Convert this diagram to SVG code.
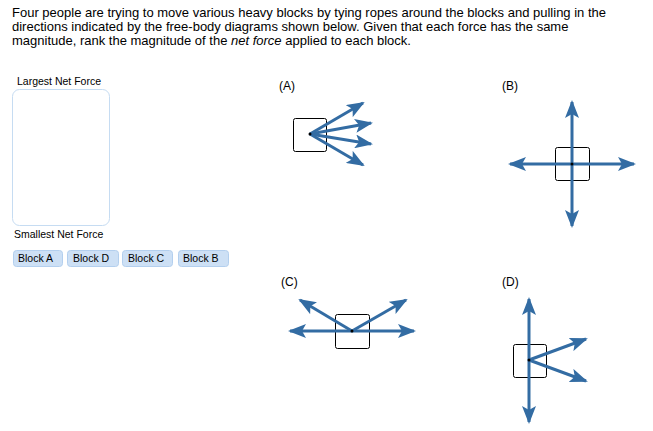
<svg xmlns="http://www.w3.org/2000/svg" width="653" height="431" viewBox="0 0 653 431">
<style>
text{font-family:"Liberation Sans",Arial,sans-serif;fill:#000}
.q{font-size:13px}
.s{font-size:10.5px}
.lb{font-size:12px}
.box{fill:#fff;stroke:#000;stroke-width:1}
.f{stroke:#336ca3;stroke-width:3;fill:none;marker-end:url(#ah)}
.btn{fill:#cde0f5;stroke:#b3cfee}
</style>
<defs>
<marker id="ah" markerUnits="userSpaceOnUse" markerWidth="18" markerHeight="14" refX="16" refY="7" orient="auto" viewBox="0 0 18 14">
<path d="M0,0 L18,7 L0,14 L4,7 Z" fill="#336ca3"/>
</marker>
</defs>
<rect width="653" height="431" fill="#fff"/>
<text class="q" x="12" y="17">Four people are trying to move various heavy blocks by tying ropes around the blocks and pulling in the</text>
<text class="q" x="12" y="31">directions indicated by the free-body diagrams shown below. Given that each force has the same</text>
<text class="q" x="12" y="45">magnitude, rank the magnitude of the <tspan font-style="italic">net force</tspan> applied to each block.</text>
<g id="ranking">
<text class="s" x="17" y="85">Largest Net Force</text>
<rect x="12.5" y="89.5" width="97" height="136" rx="7" fill="#fff" stroke="#c6dcf2"/>
<text class="s" x="14" y="238">Smallest Net Force</text>
<rect class="btn" x="13.5" y="250.5" width="49" height="16" rx="3"/><text class="s" x="18" y="262">Block A</text>
<rect class="btn" x="67.5" y="250.5" width="51" height="16" rx="3"/><text class="s" x="73" y="262">Block D</text>
<rect class="btn" x="122.5" y="250.5" width="50" height="16" rx="3"/><text class="s" x="128" y="262">Block C</text>
<rect class="btn" x="178.5" y="250.5" width="50" height="16" rx="3"/><text class="s" x="183" y="262">Block B</text>
</g>
<g id="A">
<text class="lb" x="279" y="90">(A)</text>
<rect class="box" x="293.5" y="118.5" width="33" height="33" rx="2"/>
</g>
<g id="B">
<text class="lb" x="502" y="90">(B)</text>
<rect class="box" x="555.5" y="147.5" width="34" height="33" rx="2"/>
</g>
<g id="C">
<text class="lb" x="281" y="286">(C)</text>
<rect class="box" x="335.5" y="314.5" width="34" height="34" rx="2"/>
</g>
<g id="D">
<text class="lb" x="502" y="286">(D)</text>
<rect class="box" x="513.5" y="344.5" width="33" height="33" rx="2"/>
</g>
<g id="connectors">
<line class="f" x1="310" y1="134" x2="363" y2="103"/>
<line class="f" x1="310" y1="134" x2="371" y2="123"/>
<line class="f" x1="310" y1="134" x2="371" y2="144"/>
<line class="f" x1="310" y1="134" x2="363" y2="165"/>
<line class="f" x1="572" y1="164" x2="572" y2="102"/>
<line class="f" x1="572" y1="164" x2="572" y2="226"/>
<line class="f" x1="572" y1="164" x2="510" y2="164"/>
<line class="f" x1="572" y1="164" x2="634" y2="164"/>
<line class="f" x1="352" y1="331" x2="290" y2="331"/>
<line class="f" x1="352" y1="331" x2="414" y2="331"/>
<line class="f" x1="352" y1="331" x2="300" y2="300"/>
<line class="f" x1="352" y1="331" x2="406" y2="300"/>
<line class="f" x1="529" y1="360" x2="529" y2="299"/>
<line class="f" x1="529" y1="360" x2="529" y2="422"/>
<line class="f" x1="529" y1="360" x2="586" y2="339"/>
<line class="f" x1="529" y1="360" x2="586" y2="381"/>
</g>
<g fill="#000"><circle cx="310" cy="134" r="1.5"/><circle cx="572" cy="164" r="1.5"/><circle cx="352" cy="331" r="1.5"/><circle cx="529" cy="360" r="1.5"/></g>
</svg>
